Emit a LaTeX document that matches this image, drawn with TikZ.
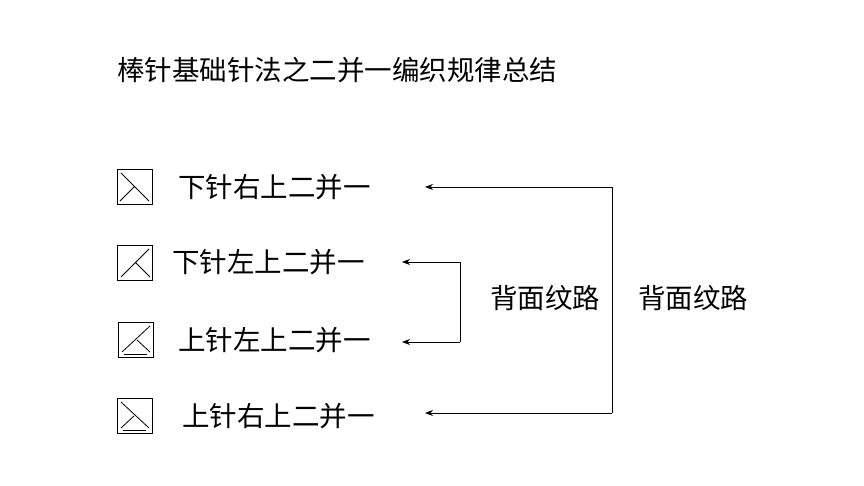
\documentclass[tikz,border=0pt]{standalone}
\usepackage{fontspec}
\setmainfont{Noto Sans CJK SC}
\usetikzlibrary{arrows.meta}
\tikzset{
  sym/.style={draw,line width=1.2pt,minimum size=35pt,inner sep=0pt},
  lbl/.style={anchor=west,font=\fontsize{27.5}{28}\selectfont,inner sep=0pt},
  link/.style={-{Stealth[length=8pt,width=6pt]},line width=0.8pt}
}
\begin{document}
\begin{tikzpicture}[x=1pt,y=-1pt]
  \useasboundingbox (0,0) rectangle (864,486);
  \node[lbl] (title) at (117,70) {棒针基础针法之二并一编织规律总结};
  % symbols
  \node[sym] (s1) at (135,187) {};
  \node[sym] (s2) at (135,263) {};
  \node[sym] (s3) at (136,340) {};
  \node[sym] (s4) at (135,416) {};
  \draw[thick] (s1.north west)++(4,4) -- ++(28,28) (s1.center)++(-1,0) -- ++(-14,14);
  \draw[thick] (s2.north east)++(-4,4) -- ++(-28,28) (s2.center)++(1,0) -- ++(14,14);
  \draw[thick] (s3.north east)++(-4,4) -- ++(-28,26) (s3.center)++(1,0) -- ++(13,12);
  \draw[thick] (s3.south west)++(6,-4) -- ++(23,0);
  \draw[thick] (s4.north west)++(4,4) -- ++(28,26) (s4.center)++(-1,0) -- ++(-13,12);
  \draw[thick] (s4.south west)++(6,-4) -- ++(23,0);
  % labels
  \node[lbl] (t1) at (178,187) {下针右上二并一};
  \node[lbl] (t2) at (172,262) {下针左上二并一};
  \node[lbl] (t3) at (178,340) {上针左上二并一};
  \node[lbl] (t4) at (182,416) {上针右上二并一};
  % connectors
  \coordinate (a1) at (425,187);
  \coordinate (a4) at (425,413);
  \coordinate (a2) at (402,262);
  \coordinate (a3) at (402,342);
  \draw[link] (612,413) -- (a4);
  \draw[link] (612,187) -- (a1);
  \draw[line width=0.8pt] (612,187) -- (612,413);
  \draw[link] (460,262) -- (a2);
  \draw[link] (460,342) -- (a3);
  \draw[line width=0.8pt] (460,262) -- (460,342);
  \node[lbl,anchor=center] (back1) at (545,298) {背面纹路};
  \node[lbl,anchor=center] (back2) at (693,298) {背面纹路};
\end{tikzpicture}
\end{document}
